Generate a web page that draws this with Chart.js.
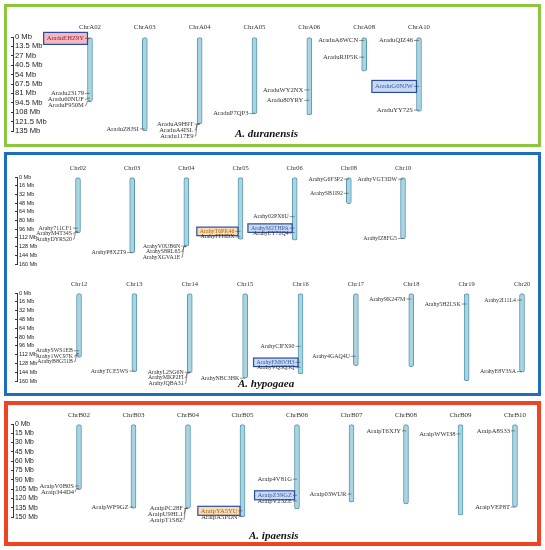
<!DOCTYPE html>
<html>
<head>
<meta charset="utf-8">
<script src="https://cdn.jsdelivr.net/npm/chart.js@4.4.1/dist/chart.umd.min.js"></script>
<style>
  html, body { margin: 0; padding: 0; background: #fff; }
  body { position: relative; width: 545px; height: 550px; overflow: hidden; }
  .panel { position: absolute; box-sizing: border-box; }
  canvas { position: absolute; left: 0; }
  .title { position: absolute; font: italic bold 11px "Liberation Serif", serif; line-height: 11px; white-space: nowrap; color: #111; }
</style>
</head>
<body>
<div class="panel" style="left:4px;top:4px;width:537px;height:143px;border:3px solid #8DC63F"></div>
<div class="panel" style="left:4px;top:152px;width:537px;height:244px;border:3px solid #1F6EBE"></div>
<div class="panel" style="left:4px;top:401px;width:537px;height:145px;border:4px solid #EE4423"></div>

<canvas id="dur" width="545" height="150" style="top:0"></canvas>
<canvas id="hyp1" width="545" height="125" style="top:150px"></canvas>
<canvas id="hyp2" width="545" height="125" style="top:275px"></canvas>
<canvas id="ipa" width="545" height="150" style="top:400px"></canvas>

<div class="title" style="left:235px;top:128px">A. duranensis</div>
<div class="title" style="left:238px;top:378px">A. hypogaea</div>
<div class="title" style="left:249px;top:530px">A. ipaensis</div>

<script>
// chromosome lengths in Mb, genes as [name, chromosome index, position Mb, highlight]
var durChroms = ['ChrA02', 'ChrA03', 'ChrA04', 'ChrA05', 'ChrA06', 'ChrA08', 'ChrA10'];
var durLengths = [93, 135, 125, 110, 112, 49, 107];
var durTicks = [0, 13.5, 27, 40.5, 54, 67.5, 81, 94.5, 108, 121.5, 135];
var durGenes = [
  ['AraduEHZ9Y', 0, 2, 'pink'],
  ['Aradu23179', 0, 81, ''],
  ['Aradu60NUF', 0, 88, ''],
  ['AraduF950M', 0, 92, ''],
  ['AraduZ8JSI', 1, 132, ''],
  ['AraduA9H9T', 2, 125, ''],
  ['AraduA4ISL', 2, 125, ''],
  ['Aradu117E9', 2, 125, ''],
  ['AraduP7QP3', 3, 110, ''],
  ['AraduWY2NX', 4, 76, ''],
  ['Aradu80YRY', 4, 91, ''],
  ['AraduA6WCN', 5, 5, ''],
  ['AraduRJP5K', 5, 29, ''],
  ['AraduQIZ46', 6, 5, ''],
  ['AraduG0NJW', 6, 71, 'blue'],
  ['AraduYY72S', 6, 105, '']
];

var hypTicks = [0, 16, 32, 48, 64, 80, 96, 112, 128, 144, 160];
var hyp1Chroms = ['Chr02', 'Chr03', 'Chr04', 'Chr05', 'Chr06', 'Chr08', 'Chr10'];
var hyp1Lengths = [103, 140, 127, 115, 116, 49, 114];
var hyp1Genes = [
  ['Arahy711CF1', 0, 94, ''],
  ['ArahyM4T34S', 0, 100, ''],
  ['ArahyDYRS20', 0, 102, ''],
  ['ArahyP8X2T9', 1, 139, ''],
  ['ArahyV0UB6N', 2, 127, ''],
  ['ArahyS8RL65', 2, 128, ''],
  ['ArahyXGVA1E', 2, 128, ''],
  ['ArahyT6PK46', 3, 100, 'orange'],
  ['ArahyFFHDX', 3, 110, ''],
  ['Arahy02PX6U', 4, 73, ''],
  ['ArahyM2THPA', 4, 94, 'blue'],
  ['ArahyEY72Q4', 4, 102, ''],
  ['ArahyG6F3P2', 5, 4, ''],
  ['ArahySB1I92', 5, 30, ''],
  ['ArahyVGT3DW', 6, 4, ''],
  ['ArahyIZ8FG5', 6, 113, '']
];

var hyp2Chroms = ['Chr12', 'Chr13', 'Chr14', 'Chr15', 'Chr16', 'Chr17', 'Chr18', 'Chr19', 'Chr20'];
var hyp2Lengths = [117, 143, 145, 155, 147, 132, 134, 160, 144];
var hyp2Genes = [
  ['ArahySWS1EB', 0, 105, ''],
  ['Arahy1WC97K', 0, 110, ''],
  ['ArahyB8G51B', 0, 113, ''],
  ['ArahyTCE5WS', 1, 142, ''],
  ['ArahyL2SG6N', 2, 144, ''],
  ['ArahyMKP2FI', 2, 145, ''],
  ['ArahyJQBA31', 2, 145, ''],
  ['ArahyNBC3HK', 3, 155, ''],
  ['ArahyCIFX90', 4, 97, ''],
  ['ArahyEM6VH3', 4, 126, 'blue'],
  ['ArahyVQ3Q3Q', 4, 135, ''],
  ['Arahy4GAQ4U', 5, 115, ''],
  ['Arahy9K247M', 6, 11, ''],
  ['Arahy5H2LSK', 7, 20, ''],
  ['Arahy2I11L4', 8, 13, ''],
  ['ArahyE8V3SA', 8, 143, '']
];

var ipaChroms = ['ChrB02', 'ChrB03', 'ChrB04', 'ChrB05', 'ChrB06', 'ChrB07', 'ChrB08', 'ChrB09', 'ChrB10'];
var ipaLengths = [106, 136, 136, 150, 137, 126, 129, 147, 134];
var ipaTicks = [0, 15, 30, 45, 60, 75, 90, 105, 120, 135, 150];
var ipaGenes = [
  ['AraipV0B0S', 0, 100, ''],
  ['Araip344D4', 0, 104, ''],
  ['AraipWF9GZ', 1, 134, ''],
  ['AraipPC28F', 2, 136, ''],
  ['AraipU9HL1', 2, 136, ''],
  ['AraipT1S8Z', 2, 136, ''],
  ['AraipYA5YU', 3, 140, 'orange'],
  ['AraipA5PDN', 3, 149, ''],
  ['Araip4V81G', 4, 89, ''],
  ['AraipZ39GZ', 4, 115, 'blue'],
  ['AraipV23ZE', 4, 124, ''],
  ['Araip03WUR', 5, 113, ''],
  ['AraipT6XJY', 6, 11, ''],
  ['AraipWWI38', 7, 16, ''],
  ['AraipA8S33', 8, 11, ''],
  ['AraipVEP8T', 8, 134, '']
];

var marks = {
  pink: { fill: '#F4B7C3', text: '#8E2430' },
  blue: { fill: '#C8DAF6', text: '#3B5C99' },
  orange: { fill: '#FBDDB1', text: '#B0601E' }
};

// draws gene names to the left of each chromosome, stacked when they crowd
var geneLabels = {
  id: 'geneLabels',
  afterDraw: function (chart, args, opts) {
    var ctx = chart.ctx, x = chart.scales.x, y = chart.scales.y;
    var groups = {};
    opts.genes.forEach(function (g) {
      (groups[g[1]] = groups[g[1]] || []).push(g);
    });
    ctx.save();
    ctx.font = opts.size + 'px "Liberation Serif"';
    ctx.textBaseline = 'middle';
    ctx.textAlign = 'right';
    Object.keys(groups).forEach(function (k) {
      var list = groups[k].slice().sort(function (a, b) { return a[2] - b[2]; });
      var cx = x.getPixelForValue(+k);
      var prev = -Infinity;
      list.forEach(function (g) {
        var gy = y.getPixelForValue(g[2]);
        var ly = Math.max(gy, prev + opts.lineH);
        prev = ly;
        var tr = cx - opts.gap;
        var tw = ctx.measureText(g[0]).width;
        if (g[3]) {
          var bx = tr - tw - opts.padX;
          ctx.fillStyle = marks[g[3]].fill;
          ctx.fillRect(bx, ly - opts.boxH / 2, cx - 2.5 - bx, opts.boxH);
          ctx.strokeStyle = '#2C4D9C';
          ctx.lineWidth = 1.2;
          ctx.strokeRect(bx, ly - opts.boxH / 2, cx - 2.5 - bx, opts.boxH);
        }
        ctx.strokeStyle = '#444';
        ctx.lineWidth = 0.6;
        ctx.beginPath();
        ctx.moveTo(tr + 1, ly);
        ctx.lineTo(cx - 4, ly);
        ctx.lineTo(cx - 2.5, gy);
        ctx.lineTo(cx, gy);
        ctx.stroke();
        ctx.fillStyle = g[3] ? marks[g[3]].text : '#333';
        ctx.fillText(g[0], tr, ly);
      });
    });
    ctx.restore();
  }
};

function chromChart(id, chroms, lengths, ticks, genes, cfg) {
  return new Chart(document.getElementById(id), {
    type: 'bar',
    data: {
      datasets: [{
        data: lengths.map(function (len, i) { return { x: i, y: [0, len] }; }),
        backgroundColor: '#A9D5E3',
        borderColor: '#5A97AE',
        borderWidth: 1,
        borderRadius: 3,
        borderSkipped: false,
        barThickness: 5
      }]
    },
    options: {
      responsive: false,
      animation: false,
      layout: { padding: cfg.pad },
      plugins: {
        legend: { display: false },
        tooltip: { enabled: false },
        geneLabels: { genes: genes, size: cfg.geneSize, lineH: cfg.lineH, gap: cfg.gap, padX: cfg.padX, boxH: cfg.boxH }
      },
      scales: {
        x: {
          type: 'linear',
          position: 'top',
          min: cfg.xMin,
          max: cfg.xMax,
          offset: false,
          grid: { display: false, drawTicks: false },
          border: { display: false },
          afterBuildTicks: function (s) { s.ticks = chroms.map(function (c, i) { return { value: i }; }); },
          afterFit: function (s) { s.height = 14; },
          ticks: {
            autoSkip: false,
            maxRotation: 0,
            padding: cfg.chrPad,
            color: '#333',
            font: { family: 'Liberation Serif', size: cfg.chrSize },
            callback: function (v) { return chroms[v]; }
          }
        },
        y: {
          type: 'linear',
          position: 'left',
          reverse: true,
          min: 0,
          max: ticks[ticks.length - 1],
          afterBuildTicks: function (s) { s.ticks = ticks.map(function (v) { return { value: v }; }); },
          afterFit: function (s) { s.width = 0; },
          grid: { drawOnChartArea: false, tickLength: 2, color: '#333' },
          border: { color: '#333', width: 1 },
          ticks: {
            mirror: true,
            padding: 2,
            autoSkip: false,
            color: '#222',
            font: { family: 'Liberation Sans', size: cfg.tickSize },
            callback: function (v) { return v + ' Mb'; }
          }
        }
      }
    },
    plugins: [geneLabels]
  });
}

chromChart('dur', durChroms, durLengths, durTicks, durGenes, {
  pad: { left: 13, right: 5, top: 23, bottom: 19 },
  xMin: -1.404, xMax: 8.207,
  chrSize: 6.8, chrPad: 6, tickSize: 7.6,
  geneSize: 6.6, lineH: 6, gap: 6, padX: 3, boxH: 12
});

chromChart('hyp1', hyp1Chroms, hyp1Lengths, hypTicks, hyp1Genes, {
  pad: { left: 17, right: 5, top: 13, bottom: 11 },
  xMin: -1.126, xMax: 8.529,
  chrSize: 6.5, chrPad: 5, tickSize: 5.5,
  geneSize: 5.9, lineH: 5.5, gap: 6, padX: 3, boxH: 8.5
});

chromChart('hyp2', hyp2Chroms, hyp2Lengths, hypTicks, hyp2Genes, {
  pad: { left: 17, right: 5, top: 4, bottom: 19 },
  xMin: -1.12, xMax: 8.325,
  chrSize: 6.5, chrPad: 5, tickSize: 5.5,
  geneSize: 5.9, lineH: 5.5, gap: 6, padX: 3, boxH: 8.5
});

chromChart('ipa', ipaChroms, ipaLengths, ipaTicks, ipaGenes, {
  pad: { left: 13, right: 5, top: 10, bottom: 33 },
  xMin: -1.211, xMax: 8.459,
  chrSize: 7, chrPad: 4.5, tickSize: 6.8,
  geneSize: 6.6, lineH: 6, gap: 5, padX: 3, boxH: 9
});
</script>
</body>
</html>
